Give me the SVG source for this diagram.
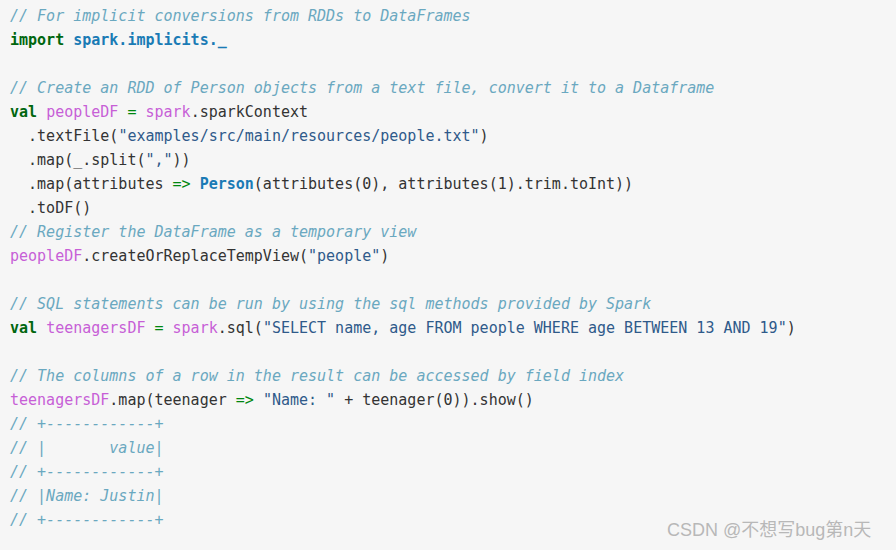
<svg xmlns="http://www.w3.org/2000/svg" width="896" height="550" viewBox="0 0 896 550">
<style>
text{font-family:"DejaVu Sans Mono","Liberation Mono",monospace;font-size:15px;fill:#333;white-space:pre}
.c{fill:#6aa8c0;font-style:italic}
.k{fill:#00660f;font-weight:bold}
.b{fill:#1a7bb5;font-weight:bold}
.v{fill:#c75fd6}
.o{fill:#00870f}
.s{fill:#2f5a8a}
.w{font-family:"Liberation Sans","Noto Sans CJK SC",sans-serif;font-size:18px;fill:#b8b8b8}
</style>
<rect width="896" height="550" fill="#f6f6f6"/>
<g id="code" xml:space="preserve">
<text x="10" y="21" class="c">// For implicit conversions from RDDs to DataFrames</text>
<text x="10" y="45"><tspan class="k">import</tspan> <tspan class="b">spark.implicits._</tspan></text>
<text x="10" y="93" class="c">// Create an RDD of Person objects from a text file, convert it to a Dataframe</text>
<text x="10" y="117"><tspan class="k">val</tspan> <tspan class="v">peopleDF</tspan> <tspan class="o">=</tspan> <tspan class="v">spark</tspan>.sparkContext</text>
<text x="10" y="141">  .textFile(<tspan class="s">"examples/src/main/resources/people.txt"</tspan>)</text>
<text x="10" y="165">  .map(_.split(<tspan class="s">","</tspan>))</text>
<text x="10" y="189">  .map(attributes <tspan class="o">=&gt;</tspan> <tspan class="b">Person</tspan>(attributes(0), attributes(1).trim.toInt))</text>
<text x="10" y="213">  .toDF()</text>
<text x="10" y="237" class="c">// Register the DataFrame as a temporary view</text>
<text x="10" y="261"><tspan class="v">peopleDF</tspan>.createOrReplaceTempView(<tspan class="s">"people"</tspan>)</text>
<text x="10" y="309" class="c">// SQL statements can be run by using the sql methods provided by Spark</text>
<text x="10" y="333"><tspan class="k">val</tspan> <tspan class="v">teenagersDF</tspan> <tspan class="o">=</tspan> <tspan class="v">spark</tspan>.sql(<tspan class="s">"SELECT name, age FROM people WHERE age BETWEEN 13 AND 19"</tspan>)</text>
<text x="10" y="381" class="c">// The columns of a row in the result can be accessed by field index</text>
<text x="10" y="405"><tspan class="v">teenagersDF</tspan>.map(teenager <tspan class="o">=&gt;</tspan> <tspan class="s">"Name: "</tspan> + teenager(0)).show()</text>
<text x="10" y="429" class="c">// +------------+</text>
<text x="10" y="453" class="c">// |       value|</text>
<text x="10" y="477" class="c">// +------------+</text>
<text x="10" y="501" class="c">// |Name: Justin|</text>
<text x="10" y="525" class="c">// +------------+</text>
</g>
<g id="watermark"><text x="667" y="536" class="w">CSDN @不想写bug第n天</text></g>
</svg>
